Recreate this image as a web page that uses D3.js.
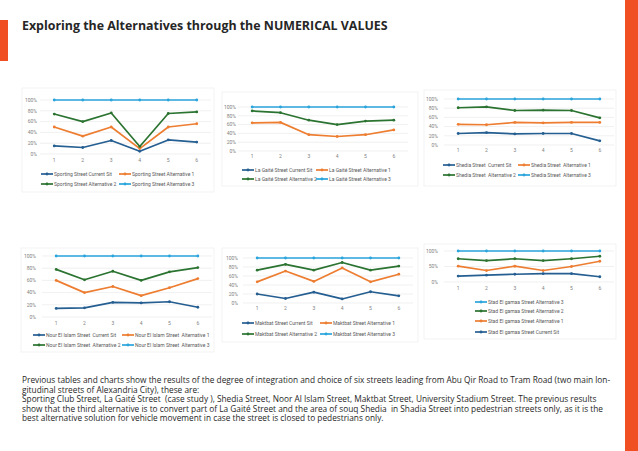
<!DOCTYPE html>
<meta charset="utf-8">
<head>
    <script src="https://d3js.org/d3.v7.min.js"></script>
    <style>
        body { margin: 0; background: #fff; }
        text { font-family: "Open Sans", sans-serif; }
        .chart text { font-family: Roboto, sans-serif; }
    </style>
</head>
<body>
<div id="my_dataviz"></div>
</body>

<script>

    // categories (x axis)
    var categories = [1, 2, 3, 4, 5, 6];

    // series names
    var seriesNames = ["Current Sit", "Alternative 1", "Alternative 2", "Alternative 3"];

    // values, in %
    var sportingCurrent = [15, 12, 25, 5, 26, 22];
    var sportingAlt1 = [50, 33, 50, 10, 50, 56];
    var sportingAlt2 = [74, 60, 76, 14, 75, 78];
    var sportingAlt3 = [100, 100, 100, 100, 100, 100];

    var gaiteCurrent = [null, null, null, null, null, null];
    var gaiteAlt1 = [64, 65, 37, 33, 37, 48];
    var gaiteAlt2 = [91, 87, 70, 60, 68, 70];
    var gaiteAlt3 = [100, 100, 100, 100, 100, 100];

    var shediaCurrent = [25, 27, 24, 25, 25, 9];
    var shediaAlt1 = [45, 44, 49, 48, 49, 49];
    var shediaAlt2 = [81, 83, 75, 76, 75, 59];
    var shediaAlt3 = [100, 100, 100, 100, 100, 100];

    var nourCurrent = [14, 15, 24, 23, 25, 16];
    var nourAlt1 = [60, 40, 50, 35, 48, 63];
    var nourAlt2 = [78, 61, 75, 60, 74, 81];
    var nourAlt3 = [100, 100, 100, 100, 100, 100];

    var maktbatCurrent = [20, 10, 24, 9, 25, 16];
    var maktbatAlt1 = [47, 71, 48, 78, 47, 64];
    var maktbatAlt2 = [73, 86, 73, 90, 73, 82];
    var maktbatAlt3 = [100, 100, 100, 100, 100, 100];

    var stadCurrent = [19, 22, 25, 27, 27, 17];
    var stadAlt1 = [51, 37, 51, 37, 50, 67];
    var stadAlt2 = [75, 69, 75, 69, 75, 83];
    var stadAlt3 = [100, 100, 100, 100, 100, 100];

    // y tick labels
    var ticks20 = [0, 20, 40, 60, 80, 100];
    var ticks50 = [0, 50, 100];

    var colors = ["#255e91", "#ed7d31", "#2b7330", "#2aa4dc"];

    var width = 638, height = 451;

    var svg = d3.select("#my_dataviz")
        .append("svg")
        .attr("width", width)
        .attr("height", height);

    // orange side bars
    svg.append("rect").attr("x", 0).attr("y", 20).attr("width", 8).attr("height", 41).attr("fill", "#f04e23");
    svg.append("rect").attr("x", 625).attr("y", 0).attr("width", 13).attr("height", height).attr("fill", "#f04e23");

    svg.append("text")
        .attr("x", 22).attr("y", 30)
        .style("font-size", "12.4px")
        .style("font-weight", "bold")
        .attr("fill", "#262626")
        .text("Exploring the Alternatives through the NUMERICAL VALUES");

    // one chart per street
    var charts = [
        {prefix: "Sporting Street ", data: [sportingCurrent, sportingAlt1, sportingAlt2, sportingAlt3], ticks: ticks20,
            box: [22, 88, 214, 192], gx: [40, 211], gy: [100, 154], labelX: 37, xLabelY: 162,
            legend: [[41, 174], [119, 174], [41, 184], [119, 184]]},
        {prefix: "La Gaité Street ", data: [gaiteCurrent, gaiteAlt1, gaiteAlt2, gaiteAlt3], ticks: ticks20,
            box: [222, 92, 418, 186], gx: [238, 408], gy: [107, 151], labelX: 236, xLabelY: 158,
            legend: [[242, 170], [316, 170], [242, 179], [316, 179]]},
        {prefix: "Shedia Street  ", data: [shediaCurrent, shediaAlt1, shediaAlt2, shediaAlt3], ticks: ticks20,
            box: [424, 90, 616, 186], gx: [444, 614], gy: [99, 145], labelX: 438, xLabelY: 152,
            legend: [[443, 165], [518, 165], [443, 175], [518, 175]]},
        {prefix: "Nour El Islam Street  ", data: [nourCurrent, nourAlt1, nourAlt2, nourAlt3], ticks: ticks20,
            box: [21, 248, 214, 352], gx: [42, 212], gy: [256, 317], labelX: 36, xLabelY: 325,
            legend: [[33, 335], [122, 335], [33, 345], [122, 345]]},
        {prefix: "Maktbat Street ", data: [maktbatCurrent, maktbatAlt1, maktbatAlt2, maktbatAlt3], ticks: ticks20,
            box: [222, 248, 418, 342], gx: [243, 413], gy: [258, 303], labelX: 238, xLabelY: 310,
            legend: [[242, 323], [320, 323], [242, 334], [320, 334]]},
        {prefix: "Stad El gamaa Street ", data: [stadCurrent, stadAlt1, stadAlt2, stadAlt3], ticks: ticks50,
            box: [424, 244, 616, 339], gx: [444, 614], gy: [251, 282], labelX: 438, xLabelY: 290,
            legend: [[475, 332], [475, 321], [475, 311], [475, 302]]}
    ];

    charts.forEach(function(c) {
        var g = svg.append("g").attr("class", "chart");

        // faint frame
        g.append("rect")
            .attr("x", c.box[0]).attr("y", c.box[1])
            .attr("width", c.box[2] - c.box[0]).attr("height", c.box[3] - c.box[1])
            .attr("fill", "none").attr("stroke", "#f0f0f0").attr("stroke-width", 0.8);

        var x = d3.scalePoint()
            .domain(categories)
            .range(c.gx)
            .padding(0.5);

        var y = d3.scaleLinear()
            .domain([0, 100])
            .range([c.gy[1], c.gy[0]]);

        // gridlines
        g.selectAll(".grid")
            .data(c.ticks)
            .enter().append("line")
            .attr("x1", c.gx[0]).attr("x2", c.gx[1])
            .attr("y1", function(d) { return y(d); })
            .attr("y2", function(d) { return y(d); })
            .attr("stroke", "#e6e6e6").attr("stroke-width", 0.6);

        // y labels
        g.selectAll(".ylab")
            .data(c.ticks)
            .enter().append("text")
            .attr("x", c.labelX)
            .attr("y", function(d) { return y(d) + 1.8; })
            .attr("text-anchor", "end")
            .style("font-size", "5px")
            .attr("fill", "#7f7f7f")
            .text(function(d) { return d + "%"; });

        // x labels
        g.selectAll(".xlab")
            .data(categories)
            .enter().append("text")
            .attr("x", function(d) { return x(d); })
            .attr("y", c.xLabelY)
            .attr("text-anchor", "middle")
            .style("font-size", "5px")
            .attr("fill", "#7f7f7f")
            .text(function(d) { return d; });

        var line = d3.line()
            .defined(function(d) { return d != null; })
            .x(function(d, i) { return x(categories[i]); })
            .y(function(d) { return y(d); });

        c.data.forEach(function(vals, s) {
            g.append("path")
                .datum(vals)
                .attr("d", line)
                .attr("fill", "none")
                .attr("stroke", colors[s])
                .attr("stroke-width", 1.7)
                .attr("stroke-linejoin", "round");

            g.selectAll(".pt" + s)
                .data(vals.map(function(v, i) { return {v: v, i: i}; }).filter(function(d) { return d.v != null; }))
                .enter().append("circle")
                .attr("cx", function(d) { return x(categories[d.i]); })
                .attr("cy", function(d) { return y(d.v); })
                .attr("r", 1.4)
                .attr("fill", colors[s]);

            // legend entry
            var lx = c.legend[s][0], ly = c.legend[s][1];
            g.append("line")
                .attr("x1", lx).attr("x2", lx + 12)
                .attr("y1", ly).attr("y2", ly)
                .attr("stroke", colors[s]).attr("stroke-width", 1.7);
            g.append("circle")
                .attr("cx", lx + 6).attr("cy", ly).attr("r", 1.4)
                .attr("fill", colors[s]);
            g.append("text")
                .attr("x", lx + 13)
                .attr("y", ly + 1.8)
                .style("font-size", "5px")
                .style("white-space", "pre")
                .attr("xml:space", "preserve")
                .attr("fill", "#595959")
                .text(c.prefix + seriesNames[s]);
        });
    });

    // text below the charts
    var paragraph = [
        "Previous tables and charts show the results of the degree of integration and choice of six streets leading from Abu Qir Road to Tram Road (two main lon-",
        "gitudinal streets of Alexandria City), these are:",
        "Sporting Club Street, La Gaité Street  (case study ), Shedia Street, Noor Al Islam Street, Maktbat Street, University Stadium Street. The previous results",
        "show that the third alternative is to convert part of La Gaité Street and the area of souq Shedia  in Shadia Street into pedestrian streets only, as it is the",
        "best alternative solution for vehicle movement in case the street is closed to pedestrians only."
    ];

    svg.selectAll(".para")
        .data(paragraph)
        .enter().append("text")
        .attr("x", 22)
        .attr("y", function(d, i) { return 383 + i * 9.5; })
        .style("font-size", "8.3px")
        .style("white-space", "pre")
        .attr("xml:space", "preserve")
        .attr("fill", "#262626")
        .text(function(d) { return d; });

</script>
